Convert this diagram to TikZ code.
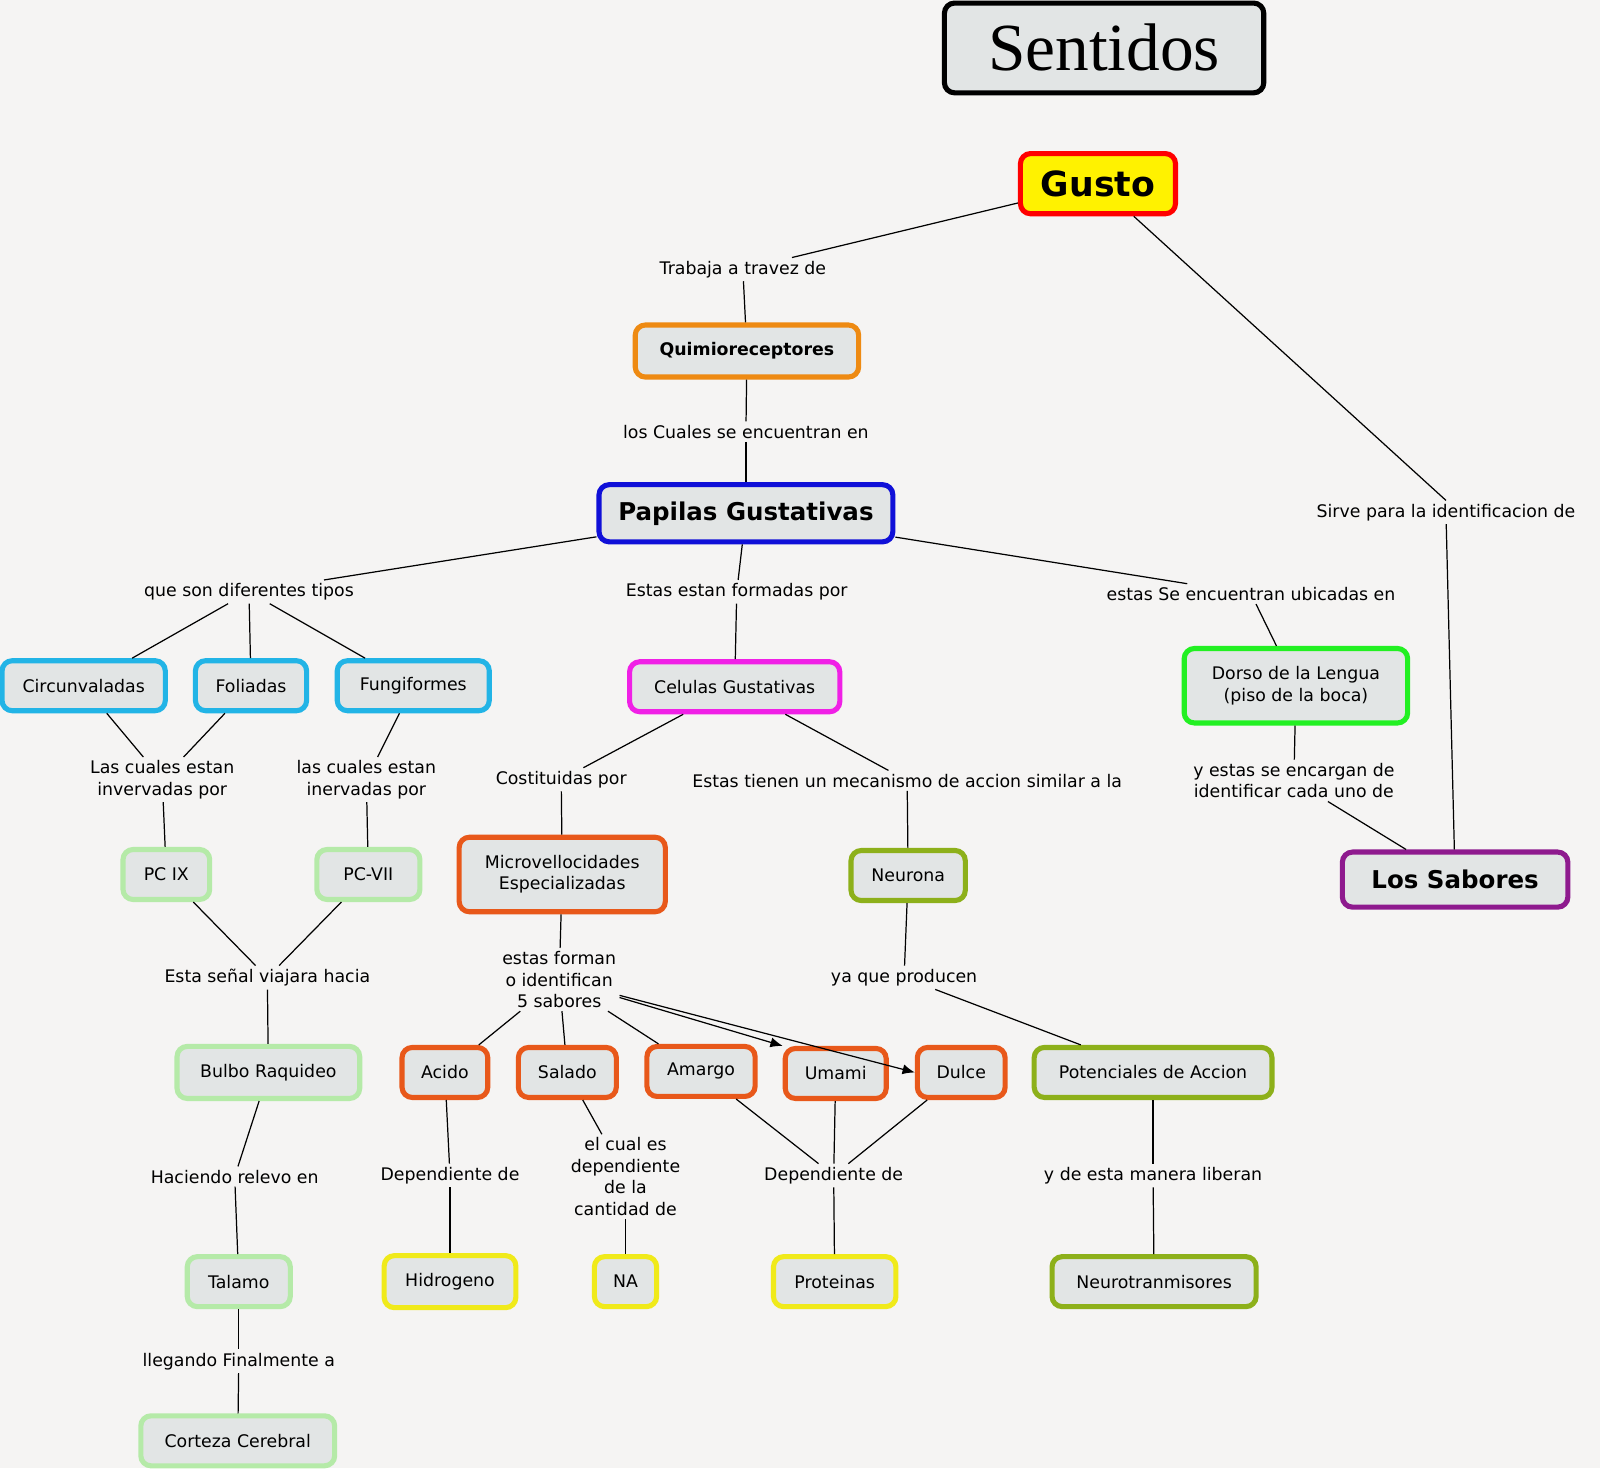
\documentclass[tikz,border=0pt]{standalone}
\usepackage{fontspec}
\setmainfont{DejaVu Sans}
\newfontfamily\titlefont{Liberation Serif}
\usetikzlibrary{arrows.meta}
\definecolor{bg}{HTML}{F5F4F3}
\definecolor{bf}{HTML}{E2E5E5}
\definecolor{cOr}{HTML}{EE8A12}
\definecolor{cBl}{HTML}{1010D8}
\definecolor{cCy}{HTML}{22B4E6}
\definecolor{cMg}{HTML}{F020E6}
\definecolor{cGr}{HTML}{22F022}
\definecolor{cPu}{HTML}{8E1A8E}
\definecolor{cLg}{HTML}{B5EAA8}
\definecolor{cRo}{HTML}{E8581A}
\definecolor{cOl}{HTML}{8DB01A}
\definecolor{cYe}{HTML}{F0EA1A}
\newcommand\px[1]{#1*0.5pt}
\tikzset{
 bx/.style={draw=#1, rounded corners=5pt, line width=2.5pt, fill=bf, align=center, inner sep=2pt, font=\fontsize{8.5}{10.5}\selectfont},
 lb/.style={align=center, inner sep=1.5pt, font=\fontsize{8.5}{10.5}\selectfont},
 ln/.style={line width=0.6pt, black},
}
\begin{document}
\begin{tikzpicture}[x=0.5pt,y=-0.5pt]
\fill[bg] (0,0) rectangle (1568,1439);
\useasboundingbox (0,0) rectangle (1568,1439);
% title
\node[draw=black, line width=2.5pt, rounded corners=5pt, fill=bf, minimum width=\px{313}, minimum height=\px{88}, font=\titlefont\fontsize{33}{36}\selectfont] (T) at (1082,47) {Sentidos};
% boxes
\node[bx=red, fill=yellow, minimum width=\px{152}, minimum height=\px{59}, font=\bfseries\fontsize{17}{20}\selectfont] (G) at (1076,180) {Gusto};
\node[bx=cOr, minimum width=\px{219}, minimum height=\px{51}, font=\bfseries\fontsize{8.5}{10}\selectfont] (Q) at (732,344) {Quimioreceptores};
\node[bx=cBl, minimum width=\px{288}, minimum height=\px{56}, font=\bfseries\fontsize{12}{14}\selectfont] (P) at (731,503) {Papilas Gustativas};
\node[bx=cCy, minimum width=\px{160}, minimum height=\px{49}] (Ci) at (82,672) {Circunvaladas};
\node[bx=cCy, minimum width=\px{109}, minimum height=\px{49}] (Fo) at (246,672) {Foliadas};
\node[bx=cCy, minimum width=\px{149}, minimum height=\px{49}] (Fu) at (405,672) {Fungiformes};
\node[bx=cMg, minimum width=\px{206}, minimum height=\px{49}] (Ce) at (720,673) {Celulas Gustativas};
\node[bx=cGr, minimum width=\px{219}, minimum height=\px{73}] (Do) at (1270,672) {Dorso de la Lengua\\(piso de la boca)};
\node[bx=cPu, minimum width=\px{221}, minimum height=\px{54}, font=\bfseries\fontsize{12}{14}\selectfont] (LS) at (1426,862) {Los Sabores};
\node[bx=cLg, minimum width=\px{85}, minimum height=\px{49}] (P9) at (163,857) {PC IX};
\node[bx=cLg, minimum width=\px{101}, minimum height=\px{49}] (P7) at (361,857) {PC-VII};
\node[bx=cRo, minimum width=\px{202}, minimum height=\px{73}] (Mi) at (551,857) {Microvellocidades\\Especializadas};
\node[bx=cOl, minimum width=\px{112}, minimum height=\px{49}] (Ne) at (890,858) {Neurona};
\node[bx=cLg, minimum width=\px{179}, minimum height=\px{51}] (Bu) at (263,1051) {Bulbo Raquideo};
\node[bx=cRo, minimum width=\px{84}, minimum height=\px{49}] (Ac) at (436,1051) {Acido};
\node[bx=cRo, minimum width=\px{96}, minimum height=\px{49}] (Sa) at (556,1051) {Salado};
\node[bx=cRo, minimum width=\px{106}, minimum height=\px{49}] (Am) at (687,1050) {Amargo};
\node[bx=cRo, minimum width=\px{99}, minimum height=\px{49}] (Um) at (819,1052) {Umami};
\node[bx=cRo, minimum width=\px{86}, minimum height=\px{49}] (Du) at (942,1051) {Dulce};
\node[bx=cOl, minimum width=\px{233}, minimum height=\px{49}] (Po) at (1130,1051) {Potenciales de Accion};
\node[bx=cLg, minimum width=\px{101}, minimum height=\px{49}] (Ta) at (234,1256) {Talamo};
\node[bx=cYe, minimum width=\px{129}, minimum height=\px{51}] (Hi) at (441,1256) {Hidrogeno};
\node[bx=cYe, minimum width=\px{61}, minimum height=\px{49}] (NA) at (613,1256) {NA};
\node[bx=cYe, minimum width=\px{120}, minimum height=\px{49}] (Pr) at (818,1256) {Proteinas};
\node[bx=cOl, minimum width=\px{200}, minimum height=\px{49}] (Nt) at (1131,1256) {Neurotranmisores};
\node[bx=cLg, minimum width=\px{190}, minimum height=\px{49}] (Co) at (233,1412) {Corteza Cerebral};
% labels
\node[lb] (l1) at (728,264) {Trabaja a travez de};
\node[lb] (l2) at (731,423) {los Cuales se encuentran en};
\node[lb] (l3) at (1417,502) {Sirve para la identificacion de};
\node[lb] (l4) at (244,580) {que son diferentes tipos};
\node[lb] (l5) at (722,580) {Estas estan formadas por};
\node[lb] (l6) at (1226,582) {estas Se encuentran ubicadas en};
\node[lb] (l7) at (159,764) {Las cuales estan\\invervadas por};
\node[lb] (l8) at (359,764) {las cuales estan\\inervadas por};
\node[lb] (l9) at (550,764) {Costituidas por};
\node[lb] (l10) at (889,765) {Estas tienen un mecanismo de accion similar a la};
\node[lb] (l11) at (1268,765) {y estas se encargan de\\identificar cada uno de};
\node[lb] (l12) at (262,958) {Esta señal viajara hacia};
\node[lb] (l13) at (548,960) {estas forman\\o identifican\\5 sabores};
\node[lb] (l14) at (886,958) {ya que producen};
\node[lb] (l15) at (230,1153) {Haciendo relevo en};
\node[lb] (l16) at (441,1152) {Dependiente de};
\node[lb] (l17) at (613,1153) {el cual es\\dependiente\\de la\\cantidad de};
\node[lb] (l18) at (817,1152) {Dependiente de};
\node[lb] (l19) at (1130,1152) {y de esta manera liberan};
\node[lb] (l20) at (234,1334) {llegando Finalmente a};
% connectors
\draw[ln] (G) -- (l1); \draw[ln] (l1) -- (Q);
\draw[ln] (G) -- (l3.north); \draw[ln] (l3) -- (LS);
\draw[ln] (Q) -- (l2); \draw[ln] (l2) -- (P);
\draw[ln] (P) -- (l4); \draw[ln] (P) -- (l5); \draw[ln] (P) -- (l6);
\draw[ln] (l4) -- (Ci); \draw[ln] (l4) -- (Fo); \draw[ln] (l4) -- (Fu);
\draw[ln] (l5) -- (Ce); \draw[ln] (l6) -- (Do);
\draw[ln] (Ci) -- (l7); \draw[ln] (Fo) -- (l7); \draw[ln] (Fu) -- (l8);
\draw[ln] (l7) -- (P9); \draw[ln] (l8) -- (P7);
\draw[ln] (P9) -- (l12); \draw[ln] (P7) -- (l12);
\draw[ln] (l12) -- (Bu); \draw[ln] (Bu) -- (l15); \draw[ln] (l15) -- (Ta);
\draw[ln] (Ta) -- (l20); \draw[ln] (l20) -- (Co);
\draw[ln] (Ce) -- (l9); \draw[ln] (l9) -- (Mi); \draw[ln] (Mi) -- (l13);
\draw[ln] (Ce) -- (l10); \draw[ln] (l10) -- (Ne); \draw[ln] (Ne) -- (l14); \draw[ln] (l14) -- (Po);
\draw[ln] (Po) -- (l19); \draw[ln] (l19) -- (Nt);
\draw[ln] (Do) -- (l11); \draw[ln] (l11) -- (LS);
\draw[ln] (l13) -- (Ac); \draw[ln] (l13) -- (Sa); \draw[ln] (l13) -- (Am);
\draw[ln, -{Latex[length=6pt,width=5pt]}] (l13) -- (Um.north west);
\draw[ln, -{Latex[length=6pt,width=5pt]}] (l13) -- (Du.west);
\draw[ln] (Ac) -- (l16); \draw[ln] (l16) -- (Hi);
\draw[ln] (Sa) -- (l17); \draw[ln] (l17) -- (NA);
\draw[ln] (Am) -- (l18); \draw[ln] (Um) -- (l18); \draw[ln] (Du) -- (l18); \draw[ln] (l18) -- (Pr);
\end{tikzpicture}
\end{document}
